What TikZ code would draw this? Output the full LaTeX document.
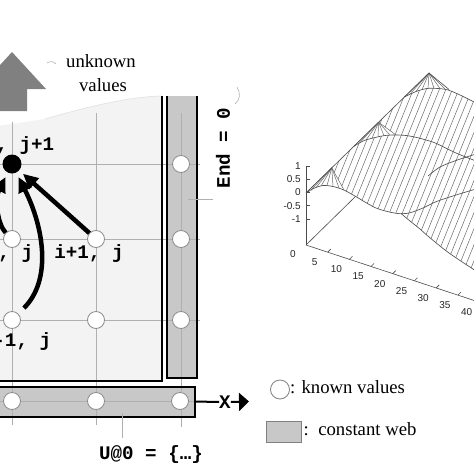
\documentclass[tikz,border=0pt]{standalone}
\usepackage{fontspec}
\setmainfont{Liberation Serif}
\setsansfont{Liberation Sans}
\setmonofont{Liberation Mono}
\usetikzlibrary{arrows.meta}
\definecolor{webgray}{HTML}{C8C8C8}
\definecolor{gridgray}{HTML}{B0B0B0}
\definecolor{bggray}{HTML}{F3F3F3}
\definecolor{arrowgray}{HTML}{808080}
\definecolor{hatchgray}{HTML}{6A6A6A}
\definecolor{curvegray}{HTML}{505050}
\begin{document}
\begin{tikzpicture}[x=1pt,y=-1pt,
  gridline/.style={draw=gridgray,line width=0.9pt},
  known/.style={circle,draw=black!45,fill=white,line width=0.8pt,minimum size=17pt,inner sep=0pt},
  solved/.style={circle,fill=black,minimum size=19pt,inner sep=0pt},
  webline/.style={draw=black,line width=2pt},
  lbl/.style={font=\ttfamily\bfseries\fontsize{19.2}{20}\selectfont,inner sep=0pt},
  depend/.style={line width=4.5pt,-{Triangle[length=15pt,width=14pt]},shorten >=5pt},
  serif/.style={font=\fontsize{18.7}{22}\selectfont,inner sep=0pt},
  ptick/.style={font=\sffamily\fontsize{10}{10}\selectfont,inner sep=0pt,text=black!85},
  hatch/.style={draw=hatchgray,line width=0.5pt},
  pcurve/.style={draw=curvegray,line width=0.65pt},
  paxis/.style={draw=black!70,line width=0.6pt},
]
\useasboundingbox (0,0) rectangle (474,474);
\clip (0,0) rectangle (474,474);
\fill[white] (0,0) rectangle (474,474);
% ---------------- left: stencil diagram ----------------
\fill[bggray] (-5,126) .. controls (15,124) and (30,121) .. (45,119) .. controls (80,109) and (125,97) .. (161,96) -- (161,380) -- (-5,380) -- cycle;
\draw[black!12,line width=0.6pt] (45,119) .. controls (80,109) and (125,97) .. (161,96);
\draw[black!30,line width=0.6pt] (47,63) .. controls (50,61) and (53,61) .. (56,64);
\draw[black!30,line width=0.6pt] (237,87) .. controls (241,93) and (240,100) .. (235,104);
% big grey arrow
\fill[arrowgray] (12,52) -- (46,89) -- (27,89) -- (27,111) -- (-3,111) -- (-3,89) -- (-22,89) -- cycle;
\node[serif,anchor=base] (unk) at (101,67) {unknown};
\node[serif,anchor=base] (vals) at (103,91) {values};
% constant webs (fills)
\fill[webgray] (167,96) rectangle (197,378);
\fill[webgray] (-5,387) rectangle (195,417);
% grid
\draw[gridline] (12,122) -- (12,425);
\draw[gridline] (96,113) -- (96,425);
\draw[gridline] (181,113) -- (181,427);
\draw[gridline] (-5,164) -- (200,164);
\draw[gridline] (-5,239) -- (200,239);
\draw[gridline] (-5,320) -- (200,320);
\draw[gridline] (-5,401) -- (195,401);
% outlines
\draw[webline] (161.5,96) -- (161.5,380.5) -- (-5,380.5);
\draw[webline] (167,96) -- (167,378) -- (197,378) -- (197,96);
\draw[webline] (-5,387) -- (195,387) -- (195,417) -- (-5,417);
% points
\node[solved] (ij1) at (12,164) {};
\node[known] (ij) at (12,239) {};
\node[known] (ip1j) at (96,239) {};
\node[known] (im1j) at (12,320) {};
\node[known] (p96) at (96,320) {};
\node[known] (r1) at (181,164) {};
\node[known] (r2) at (181,239) {};
\node[known] (r3) at (181,320) {};
\node[known] (b1) at (12,401) {};
\node[known] (b2) at (96,401) {};
\node[known] (b3) at (180,401) {};
% dependencies
\draw[depend] (ip1j) -- (ij1);
\draw[depend] (ij) .. controls (-2,225) and (-6,200) .. (ij1);
\draw[depend,shorten <=8pt] (im1j) .. controls (52,280) and (44,228) .. (ij1);
% labels
\node[lbl,anchor=base west] (l1) at (-15.25,150) {i, j+1};
\node[lbl,anchor=base west] (l2) at (-13.25,258) {i, j};
\node[lbl,anchor=base west] (l3) at (54.25,258) {i+1, j};
\node[lbl,anchor=base west] (l4) at (-18.25,346) {i-1, j};
\node[lbl,rotate=90] (endlbl) at (223,148) {End = 0};
\coordinate (endlead1) at (188,199);
\coordinate (endlead2) at (213,199);
\draw[gridline] (endlead1) -- (endlead2);
\node[lbl] (xlab) at (225,402) {X};
\coordinate (xstart) at (195,401.5);
\coordinate (xend) at (249,401.5);
\draw[line width=2pt] (xstart) -- (xlab.west);
\draw[line width=2pt,-{Triangle[length=10pt,width=18pt]}] (xlab.east) -- (xend);
\coordinate (ulead1) at (122,413);
\coordinate (ulead2) at (122,438);
\draw[gridline] (ulead1) -- (ulead2);
\node[lbl,anchor=base] (ulbl) at (151,459) {U@0 = \{…\}};
% legend
\node[known,minimum size=19pt,draw=black!50] (legc) at (280,389.5) {};
\node[serif,anchor=base west] (legt1) at (290,393) {: known values};
\node[draw=black!50,fill=webgray,line width=1pt,minimum width=35pt,minimum height=21pt,inner sep=0pt] (legr) at (283.5,431.5) {};
\node[serif,anchor=base west] (legt2) at (303.5,435) {:~~constant web};
% ---------------- right: surface plot ----------------
% axes
\draw[paxis] (306,166) -- (306,245);
\foreach \yy/\tx in {166/1,179.25/0.5,192.5/0,205.75/-0.5,219/-1}{
  \draw[paxis] (306,\yy) -- (309.5,\yy);
  \node[ptick,anchor=east] at (301,\yy) {\tx};
}
\draw[paxis] (306,245) -- (506,311);
\draw[paxis] (306,245) -- (357,195);
\node[ptick] at (293,254) {0};
\foreach \k in {5,10,...,40}{
  \draw[paxis] ({306+4.34*\k},{245+1.43*\k}) -- ++(3,-3);
  \node[ptick] at ({293+4.34*\k},{255+1.43*\k}) {\k};
}
\coordinate (E0) at (306,193);
\coordinate (F1) at (331.8,167.8);
\coordinate (E1) at (354,146.2);
\coordinate (F2) at (378.6,122.2);
\coordinate (E2) at (404.4,97);
\coordinate (AP) at (429,73);
% back strip
\begin{scope}
\clip (F2) -- (E2) -- plot[smooth] coordinates {(404.4,97) (416,91.5) (427,88.5) (438,88.5) (448,90) (460,95) (476,103)} -- (476,161) -- plot[smooth] coordinates {(476,161) (456,153) (436,143.3) (426,140) (416,137.3) (406,135.5) (396,135)} -- cycle;
\fill[white] (300,60) rectangle (480,300);
\foreach \k in {0,...,38} \draw[hatch] ({238+6.5*\k},330) -- ++(112.5,-278);
\end{scope}
% middle strip
\begin{scope}
\clip (F1) -- (E1) -- plot[smooth] coordinates {(354,146.2) (363,141) (373,138) (385,135.5) (396,135) (406,135.5) (416,137.3) (426,140) (436,143.3) (456,153) (476,161)} -- (476,189) -- plot[smooth] coordinates {(476,189) (456,195) (436,201.7) (423,208) (409,213) (396,213.3) (376,208) (354,195.5) (344,190)} -- cycle;
\fill[white] (300,60) rectangle (480,300);
\foreach \k in {0,...,38} \draw[hatch] ({238+6.5*\k},330) -- ++(112.5,-278);
\end{scope}
% front lower strip
\begin{scope}
\clip plot[smooth] coordinates {(398,213.3) (409,213) (423,208) (436,201.7) (456,195) (476,189)} -- (476,272) -- plot[smooth] coordinates {(476,271) (449,253) (429,237) (420,229) (410,221) (401,213.5)} -- cycle;
\fill[white] (300,60) rectangle (480,300);
\foreach \k in {0,...,38} \draw[hatch] ({238+6.5*\k},330) -- ++(112.5,-278);
\end{scope}
% fans
\foreach \x/\y in {306/193,311/190.2,316/187.6,321/186,327/185.6,333/186.5,339/188,344/190}
  \draw[hatch] (F1) -- (\x,\y);
\foreach \x/\y in {354/146.2,360/142.5,366/140,372/138.3,378/136.8,384/135.7,390/135.2,396/135}
  \draw[hatch] (F2) -- (\x,\y);
\foreach \x/\y in {404.4/97,410/94,416/91.5,422/89.8,428/88.6,434/88.3,440/88.5,445/89}
  \draw[hatch] (AP) -- (\x,\y);
% profile curves and edges
\draw[pcurve] (E0) -- (AP);
\draw[pcurve] (AP) -- (449,89.5);
\draw[pcurve] plot[smooth] coordinates {(306,193) (314,188.3) (323,185.5) (333,186.5) (344,190) (354,195.5) (376,208) (396,213.3) (409,213) (423,208) (436,201.7) (456,195) (476,189)};
\draw[pcurve] plot[smooth] coordinates {(354,146.2) (363,141) (373,138) (385,135.5) (396,135) (406,135.5) (416,137.3) (426,140) (436,143.3) (456,153) (476,161)};
\draw[pcurve] plot[smooth] coordinates {(404.4,97) (416,91.5) (427,88.5) (438,88.5) (448,90) (460,95) (476,103)};
\draw[pcurve] plot[smooth] coordinates {(428,176) (440,167) (456,160.5) (476,154)};
\draw[pcurve] plot[smooth] coordinates {(401,213.5) (410,221) (420,229) (429,237) (449,253) (476,271)};
\end{tikzpicture}
\end{document}
